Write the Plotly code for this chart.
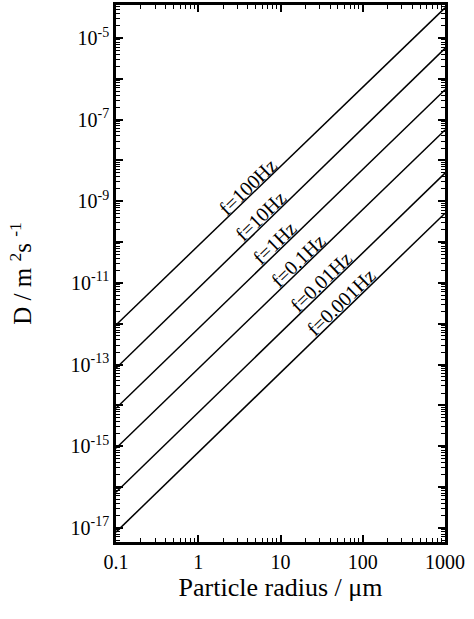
import math
import plotly.graph_objects as go

# ---- data ----
radius = [0.1, 1000]  # µm, endpoints of each straight line on log-log axes
freq_labels = ["f=100Hz", "f=10Hz", "f=1Hz", "f=0.1Hz", "f=0.01Hz", "f=0.001Hz"]
D_f100 = [9.3e-13, 5.5e-5]
D_f10 = [8.1e-14, 5.6e-6]
D_f1 = [8.5e-15, 5.4e-7]
D_f01 = [8.9e-16, 5.6e-8]
D_f001 = [7.4e-17, 4.9e-9]
D_f0001 = [7.8e-18, 5.1e-10]
series = [D_f100, D_f10, D_f1, D_f01, D_f001, D_f0001]

x_ticks = [0.1, 1, 10, 100, 1000]
x_ticktext = ["0.1", "1", "10", "100", "1000"]
y_decades = list(range(-17, -4))  # -17 .. -5
y_ticktext = [("10<sup>%d</sup>" % d) if d % 2 else "" for d in y_decades]

# where each label sits along its line (log10 of radius)
label_logx = [0.67, 0.83, 1.0, 1.28, 1.56, 1.81]

FONT = "Liberation Serif"

fig = go.Figure()
for ys in series:
    fig.add_trace(go.Scatter(x=radius, y=ys, mode="lines",
                             line=dict(color="black", width=1.5),
                             showlegend=False, hoverinfo="skip"))

lx0, lx1 = math.log10(radius[0]), math.log10(radius[1])
for txt, ys, lx in zip(freq_labels, series, label_logx):
    ly0, ly1 = math.log10(ys[0]), math.log10(ys[1])
    ly = ly0 + (ly1 - ly0) * (lx - lx0) / (lx1 - lx0)
    fig.add_annotation(x=lx, y=ly, xref="x", yref="y", text=txt,
                       showarrow=False, textangle=-44,
                       xshift=-6, yshift=6,
                       font=dict(family=FONT, size=20, color="black"))

x_minor = [m * 10 ** e for e in range(-1, 3) for m in range(2, 10)]
y_minor = [m * 10.0 ** e for e in range(-18, -4) for m in range(2, 10)]

fig.update_xaxes(type="log", range=[-1, 3],
                 tickmode="array", tickvals=x_ticks, ticktext=x_ticktext,
                 ticks="inside", ticklen=7, tickwidth=1.5, tickcolor="black",
                 minor=dict(tickmode="array", tickvals=x_minor, ticks="inside",
                            ticklen=4, tickwidth=1.2, tickcolor="black", showgrid=False),
                 showline=True, linecolor="black", linewidth=2.5, mirror="ticks",
                 showgrid=False, zeroline=False, automargin=False,
                 tickfont=dict(family=FONT, size=20, color="black"),
                 title=dict(text="Particle radius / \u03bcm",
                            font=dict(family=FONT, size=26, color="black"),
                            standoff=0))
fig.update_yaxes(type="log", range=[-17.35, -4.19],
                 tickmode="array", tickvals=[10.0 ** d for d in y_decades], ticktext=y_ticktext,
                 ticks="inside", ticklen=7, tickwidth=1.5, tickcolor="black",
                 minor=dict(tickmode="array", tickvals=y_minor, ticks="inside",
                            ticklen=4, tickwidth=1.2, tickcolor="black", showgrid=False),
                 showline=True, linecolor="black", linewidth=2.5, mirror="ticks",
                 showgrid=False, zeroline=False, automargin=False,
                 tickfont=dict(family=FONT, size=20, color="black"),
                 title=dict(text="D / m <sup>2</sup>s <sup>-1</sup>",
                            font=dict(family=FONT, size=25, color="black"),
                            standoff=32))

fig.update_layout(width=474, height=619,
                  margin=dict(l=116, r=29, t=5, b=77),
                  paper_bgcolor="white", plot_bgcolor="white",
                  font=dict(family=FONT, color="black"))

fig.write_html("out.html", config={"displayModeBar": False},
               post_script="document.body.style.margin='0px';document.body.style.padding='0px';")
